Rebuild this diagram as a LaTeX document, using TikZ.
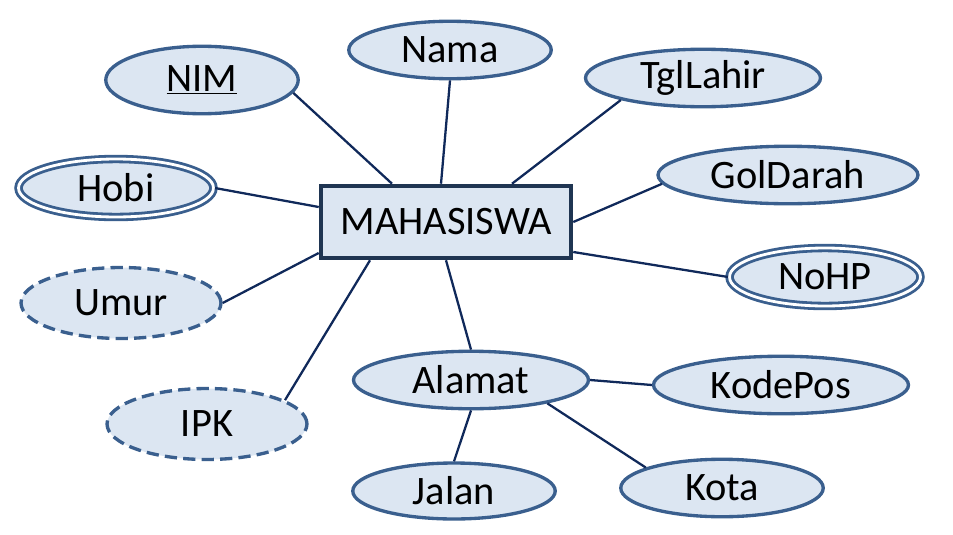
\documentclass[tikz,border=0pt]{standalone}
\usepackage{fontspec}
\setmainfont{Carlito}
\usetikzlibrary{positioning, shapes.geometric}
\definecolor{clrfill}{HTML}{DCE6F2}
\definecolor{clrattr}{HTML}{3A5F8E}
\definecolor{clrentity}{HTML}{1F3552}
\definecolor{clrlink}{HTML}{10295A}
\definecolor{clrtext}{HTML}{000000}

\begin{document}
\begin{tikzpicture}[
    x=0.02cm, y=-0.02cm,
    every node/.style={font=\fontsize{23}{27}\selectfont, text=clrtext},
    entity/.style={draw=clrentity, fill=clrfill, line width=2.6pt,
                   minimum width=5.0cm, minimum height=1.44cm, inner sep=0pt},
    attr/.style={ellipse, draw=clrattr, fill=clrfill, line width=1.9pt,
                 minimum width=4.0cm, minimum height=1.15cm, inner sep=0pt},
    multiattr/.style={attr, line width=1.6pt, double=white, double distance=1.6pt},
    derived/.style={attr, dash pattern=on 7pt off 3.5pt},
    link/.style={draw=clrlink, line width=1.3pt},
]
\useasboundingbox (0,0) rectangle (953,534);
\node[entity] (e_mhs) at (446,222) {MAHASISWA};
\node[attr, minimum width=3.85cm, minimum height=1.35cm] (a_nim) at (202,80) {\underline{NIM}};
\node[attr, minimum width=4.05cm] (a_nama) at (450,50) {Nama};
\node[attr, minimum width=4.7cm] (a_tgl) at (703,78) {TglLahir};
\node[attr, minimum width=5.2cm] (a_gol) at (788,175) {GolDarah};
\node[multiattr, minimum width=3.9cm, minimum height=1.16cm] (a_hobi) at (116,188) {Hobi};
\node[multiattr, minimum width=3.82cm, minimum height=1.16cm] (a_nohp) at (825,277) {NoHP};
\node[derived, minimum width=4.0cm, minimum height=1.42cm] (a_umur) at (121,303) {Umur};
\node[derived, minimum width=4.0cm, minimum height=1.42cm] (a_ipk) at (207,424) {IPK};
\node[attr, minimum width=4.7cm] (a_alamat) at (471,380) {Alamat};
\node[attr, minimum width=5.1cm] (a_kodepos) at (781,385) {KodePos};
\node[attr, minimum width=4.05cm, minimum height=1.12cm] (a_jalan) at (454,491) {Jalan};
\node[attr, minimum width=4.05cm] (a_kota) at (722,488) {Kota};
% attributes of MAHASISWA
\draw[link] (a_nim.-8) -- ([xshift=-1.08cm]e_mhs.north);
\draw[link] (a_nama.south) -- ([xshift=-0.1cm]e_mhs.north);
\draw[link] (a_tgl.195) -- ([xshift=1.32cm]e_mhs.north);
\draw[link] (a_gol.184) -- (e_mhs.east);
\draw[link] (a_hobi.east) -- ([yshift=0.3cm]e_mhs.west);
\draw[link] (a_nohp.west) -- ([yshift=-0.6cm]e_mhs.east);
\draw[link] (a_umur.east) -- ([yshift=-0.62cm]e_mhs.west);
\draw[link] (a_ipk.17) -- ([xshift=-1.52cm]e_mhs.south);
\draw[link] (a_alamat.north) -- (e_mhs.south);
% composite Alamat
\draw[link] (a_alamat.east) -- (a_kodepos.west);
\draw[link] (a_alamat.south) -- (a_jalan.north);
\draw[link] (a_alamat.-17) -- (a_kota.165);
\end{tikzpicture}
\end{document}
